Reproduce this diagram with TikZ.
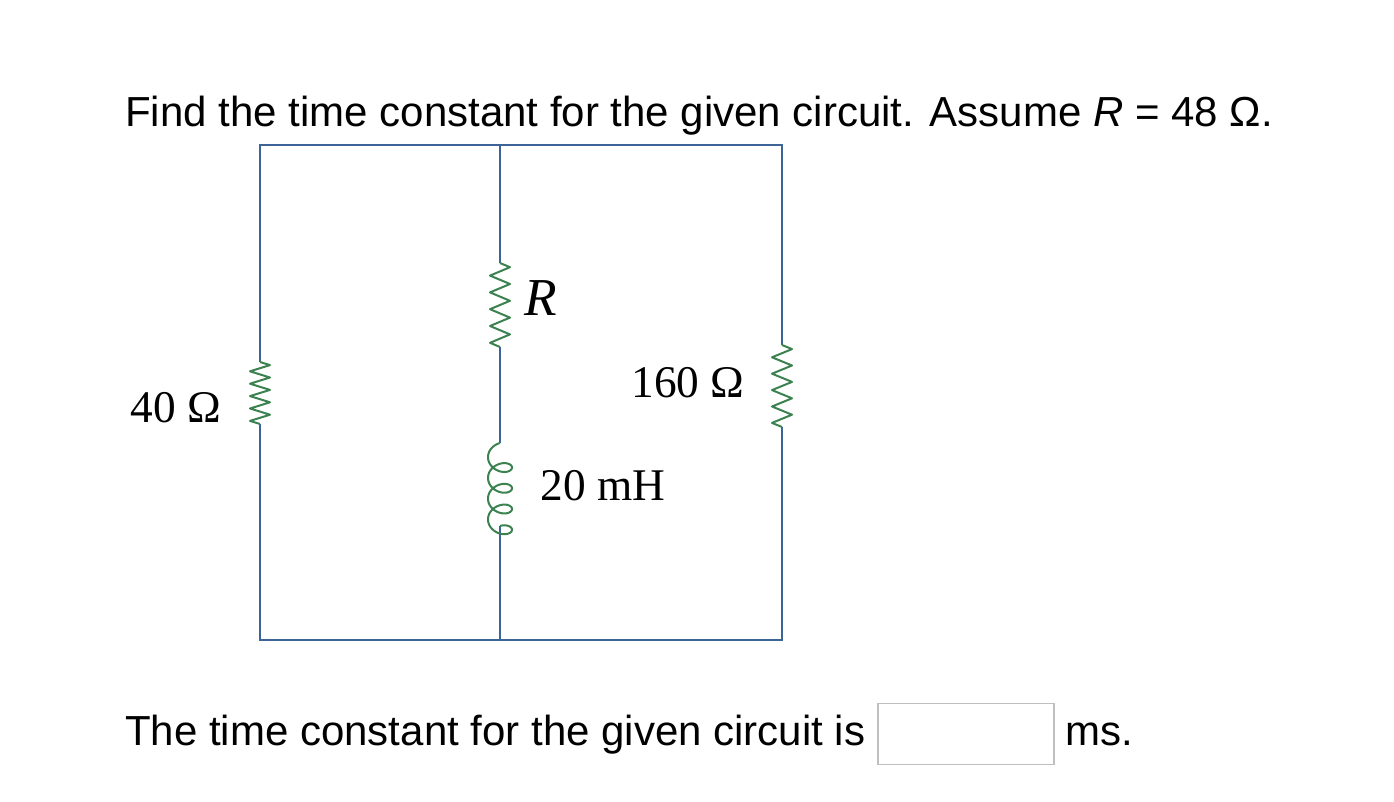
\documentclass[tikz,border=0pt]{standalone}
\usepackage{fontspec}
\usetikzlibrary{calc}
\setmainfont{Liberation Sans}
\newfontfamily\serif{Liberation Serif}
\begin{document}
\begin{tikzpicture}[x=0.75pt,y=-0.75pt,
  lab/.style={font=\serif\fontsize{34}{36}\selectfont, inner sep=0pt},
  txt/.style={font=\fontsize{31.5}{36}\selectfont, inner sep=0pt, anchor=base west}]
\useasboundingbox (0,0) rectangle (1394,802);
\definecolor{wc}{RGB}{60,100,150}
\definecolor{cc}{RGB}{60,130,80}
\tikzset{wire/.style={draw=wc, line width=1.4pt}, comp/.style={draw=cc, line width=1.5pt, line join=round}}
\node[txt] (q) at (125,127) {Find the time constant for the given circuit. Assume \textit{R} = 48 Ω.};
\coordinate (tl) at (260,145); \coordinate (tm) at (500,145); \coordinate (tr) at (782,145);
\coordinate (bl) at (260,640); \coordinate (bm) at (500,640); \coordinate (br) at (782,640);
\coordinate (l1) at (260,362); \coordinate (l2) at (260,424);
\coordinate (m1) at (500,263); \coordinate (m2) at (500,347);
\coordinate (i1) at (500,443); \coordinate (i2) at (500,526);
\coordinate (r1) at (782,345); \coordinate (r2) at (782,427);
\draw[wire] (l1) -- (tl) -- (tr) -- (r1);
\draw[wire] (r2) -- (br) -- (bl) -- (l2);
\draw[wire] (tm) -- (m1); \draw[wire] (m2) -- (i1); \draw[wire] (i2) -- (bm);
\foreach \s/\e in {l1/l2, m1/m2, r1/r2}{
  \draw[comp] (\s) \foreach \k in {1,...,5}{
     -- ($(\s)!{(\k-0.75)/5}!(\e)+(10,0)$) -- ($(\s)!{(\k-0.25)/5}!(\e)+(-10,0)$) } -- (\e);
}
\draw[comp] plot[domain=0:25.133, samples=240, variable=\t]
  ({500-12*sin(\t r)}, {443+3.3*\t-9*cos(\t r)+9});
\node[lab, font=\serif\itshape\fontsize{40}{40}\selectfont] (R) at (541,298) {R};
\node[lab] (a) at (176,408) {40 Ω};
\node[lab] (b) at (688,383) {160 Ω};
\node[lab] (c) at (603,486) {20 mH};
\node[txt] (t) at (125,745) {The time constant for the given circuit is};
\node[draw=gray!50, line width=0.8pt, minimum width=132pt, minimum height=46pt, inner sep=0pt] (box) at (966,734) {};
\node[txt] (ms) at (1065,745) {ms.};
\end{tikzpicture}
\end{document}
